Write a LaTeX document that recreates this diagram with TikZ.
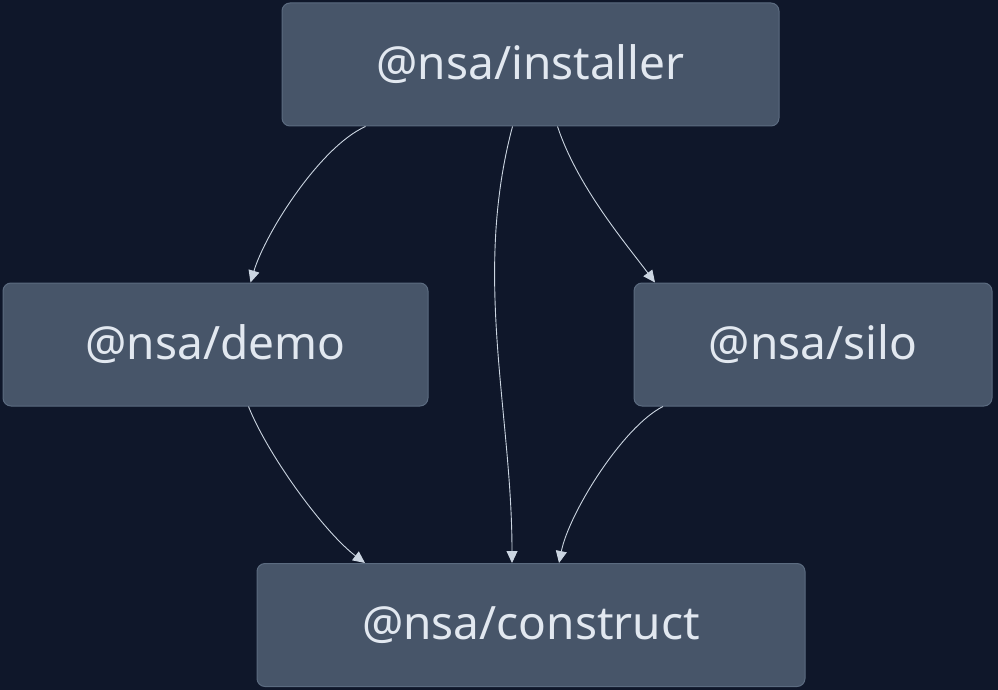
\documentclass[tikz,border=0pt]{standalone}
\usepackage{fontspec}
\setmainfont{Noto Sans}
\usetikzlibrary{arrows.meta}
\definecolor{bg}{HTML}{0F172A}
\definecolor{boxfill}{HTML}{475569}
\definecolor{boxline}{HTML}{5B6B80}
\definecolor{txt}{HTML}{E2E8F0}
\definecolor{edge}{HTML}{CBD5E1}
\tikzset{
  pkg/.style={draw=boxline, line width=1pt, fill=boxfill, rounded corners=8pt, text=txt, font=\fontsize{46}{50}\selectfont, inner sep=0pt, anchor=center},
  dep/.style={draw=edge, line width=0.9pt, -{Triangle[length=12pt,width=11pt]}}
}
\begin{document}
\begin{tikzpicture}[x=1pt,y=-1pt]
\fill[bg] (0,0) rectangle (998,690);
\useasboundingbox (0,0) rectangle (998,690);
\node[pkg, minimum width=497pt, minimum height=123pt] (inst) at (530.5,64.5) {@nsa/installer};
\node[pkg, minimum width=425pt, minimum height=123pt] (demo) at (215.5,344.5) {@nsa/demo};
\node[pkg, minimum width=358pt, minimum height=123pt] (silo) at (813,344.5) {@nsa/silo};
\node[pkg, minimum width=548pt, minimum height=123pt] (cons) at (531,625) {@nsa/construct};
\draw[dep] ([xshift=-165pt]inst.south) .. controls +(-45,20) and +(15,-50) .. ([xshift=35pt]demo.north);
\draw[dep] ([xshift=-18pt]inst.south) .. controls +(-40,150) and +(0,-150) .. ([xshift=-19pt]cons.north);
\draw[dep] ([xshift=27pt]inst.south) .. controls +(20,60) and +(-30,-40) .. ([xshift=-158pt]silo.north);
\draw[dep] ([xshift=33pt]demo.south) .. controls +(20,50) and +(-40,-30) .. ([xshift=-166pt]cons.north);
\draw[dep] ([xshift=-150pt]silo.south) .. controls +(-40,20) and +(10,-50) .. ([xshift=28pt]cons.north);
\end{tikzpicture}
\end{document}
